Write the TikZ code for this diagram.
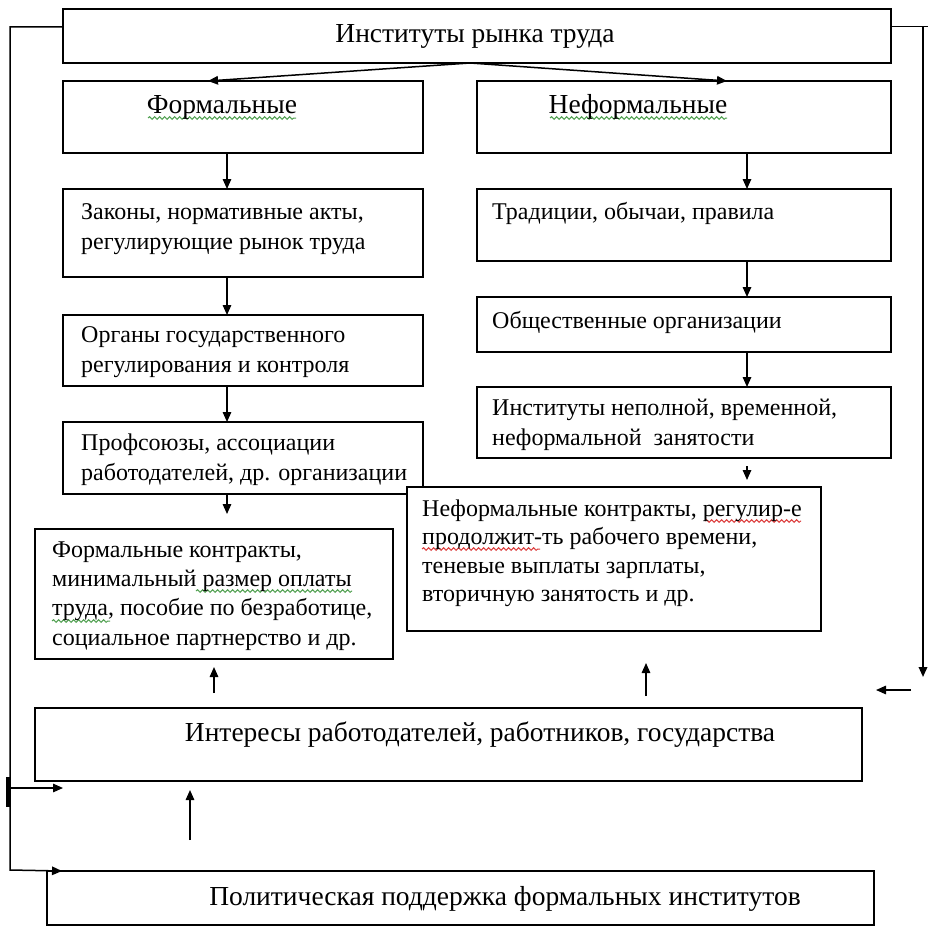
\documentclass[tikz,border=0pt]{standalone}
\usepackage{fontspec}
\setmainfont{Liberation Serif}
\usetikzlibrary{arrows.meta,decorations.pathmorphing}
\definecolor{wgreen}{RGB}{80,160,80}
\definecolor{wred}{RGB}{220,60,60}
\begin{document}
\begin{tikzpicture}[x=1pt,y=-1pt,
  box/.style={draw, line width=2pt, inner sep=0pt, outer sep=0pt, anchor=north west},
  big/.style={inner sep=0pt, anchor=base, font=\fontsize{27.5}{33}\selectfont},
  txt/.style={inner sep=0pt, anchor=north west, align=left, font=\fontsize{24}{30}\selectfont},
  txtb/.style={inner sep=0pt, anchor=north west, align=left, font=\fontsize{24}{29.3}\selectfont},
  txtc/.style={inner sep=0pt, anchor=north west, align=left, font=\fontsize{24}{28.5}\selectfont},
  arr/.style={line width=1.5pt, -{Triangle[length=10pt,width=8.5pt]}},
  wave/.style={line width=1pt, decorate, decoration={snake, amplitude=1.3pt, segment length=5pt}},
  gwave/.style={wave, draw=wgreen},
  rwave/.style={wave, draw=wred}]
\fill[white] (0,0) rectangle (934,934);
\useasboundingbox (0,0) rectangle (934,934);

% boxes
\node[box, minimum width=828pt, minimum height=54pt] (top) at (63,9) {};
\node[box, minimum width=360pt, minimum height=72pt] (f) at (63,81) {};
\node[box, minimum width=414pt, minimum height=72pt] (nf) at (477,81) {};
\node[box, minimum width=360pt, minimum height=88pt] (l1) at (63,189) {};
\node[box, minimum width=360pt, minimum height=71pt] (l2) at (63,315) {};
\node[box, minimum width=360pt, minimum height=72pt] (l3) at (63,422) {};
\node[box, minimum width=358pt, minimum height=130pt] (l4) at (35,529) {};
\node[box, minimum width=414pt, minimum height=72pt] (r1) at (477,189) {};
\node[box, minimum width=414pt, minimum height=55pt] (r2) at (477,297) {};
\node[box, minimum width=414pt, minimum height=71pt] (r3) at (477,387) {};
\node[box, fill=white, minimum width=414pt, minimum height=144pt] (r4) at (407,487) {};
\node[box, minimum width=827pt, minimum height=73pt] (int) at (35,708) {};
\node[box, minimum width=827pt, minimum height=54pt] (pol) at (47,871) {};

% spell-check waves
\draw[gwave] (148,118) -- (296,118);
\draw[gwave] (550,118) -- (727,118);
\draw[gwave] (196,591) -- (352,591);
\draw[gwave] (52,621) -- (110,621);
\draw[rwave] (705,521) -- (801,521);
\draw[rwave] (422,549) -- (540,549);

% texts
\node[big] (topT) at (475,43) {Институты рынка труда};
\node[big] (fT) at (222,113) {Формальные};
\node[big] (nfT) at (638,113) {Неформальные};
\node[txt] (l1T) at (81,198) {\strut Законы, нормативные акты,\\регулирующие рынок труда};
\node[txt] (l2T) at (81,321) {\strut Органы государственного\\регулирования и контроля};
\node[txt] (l3T) at (81,429) {\strut Профсоюзы, ассоциации\\работодателей, др. организации};
\node[txtb] (l4T) at (52,536.5) {\strut Формальные контракты,\\минимальный размер оплаты\\труда, пособие по безработице,\\социальное партнерство и др.};
\node[txt] (r1T) at (492,198) {\strut Традиции, обычаи, правила};
\node[txt] (r2T) at (492,307) {\strut Общественные организации};
\node[txt] (r3T) at (492,394) {\strut Институты неполной, временной,\\неформальной\ \ занятости};
\node[txtc] (r4T) at (422,496) {\strut Неформальные контракты, регулир-е\\продолжит-ть рабочего времени,\\теневые выплаты зарплаты,\\вторичную занятость и др.};
\node[big] (intT) at (480,741) {Интересы работодателей, работников, государства};
\node[big] (polT) at (505,905) {Политическая поддержка формальных институтов};

% free ends
\coordinate (l3a) at (227,514);
\coordinate (r3s) at (747,466);
\coordinate (r3a) at (747,480);
\coordinate (u1s) at (214,693);
\coordinate (u1e) at (214,667);
\coordinate (u2s) at (646,696);
\coordinate (u2e) at (646,663);
\coordinate (u3s) at (190,840);
\coordinate (u3e) at (190,790);
\coordinate (rl) at (923,27);
\coordinate (rlx) at (928,27);
\coordinate (rd) at (923,677);
\coordinate (sas) at (911,690);
\coordinate (sae) at (876,690);
\coordinate (ll) at (10,27);
\coordinate (lb) at (10,870);
\coordinate (tk1) at (8,777);
\coordinate (tk2) at (8,807);
\coordinate (las) at (10,788);
\coordinate (lae) at (63,788);

% connectors
\draw[arr] ([xshift=-7pt]top.south) -- ([xshift=-35pt]f.north);
\draw[arr] ([xshift=-7pt]top.south) -- ([xshift=43pt]nf.north);
\draw[arr] (227,0 |- f.south) -- (227,0 |- l1.north);
\draw[arr] (227,0 |- l1.south) -- (227,0 |- l2.north);
\draw[arr] (227,0 |- l2.south) -- (227,0 |- l3.north);
\draw[arr] (227,0 |- l3.south) -- (l3a);
\draw[arr] (747,0 |- nf.south) -- (747,0 |- r1.north);
\draw[arr] (747,0 |- r1.south) -- (747,0 |- r2.north);
\draw[arr] (747,0 |- r2.south) -- (747,0 |- r3.north);
\draw[arr] (r3s) -- (r3a);
\draw[arr] (u1s) -- (u1e);
\draw[arr] (u2s) -- (u2e);
\draw[arr] (u3s) -- (u3e);
% left loop
\draw[arr] ([yshift=9pt]top.west) -- (ll) -- (lb) -- ([xshift=15pt]pol.north west);
\draw[line width=4pt] (tk1) -- (tk2);
\draw[arr] (las) -- (lae);
% right loop
\draw[line width=1pt] ([yshift=9pt]top.east) -- (rlx);
\draw[arr, line width=1.8pt] (rl) -- (rd);
\draw[arr] (sas) -- (sae);
\end{tikzpicture}
\end{document}
